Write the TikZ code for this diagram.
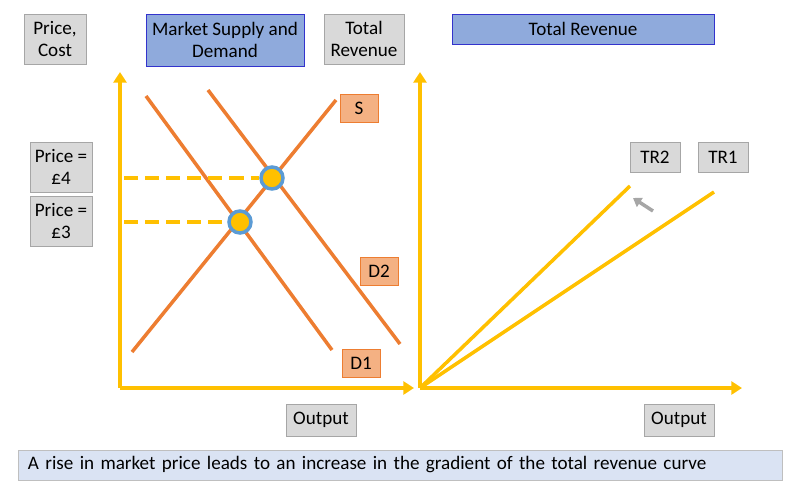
\documentclass[tikz,border=0pt]{standalone}
\usepackage{fontspec}
\setmainfont{Carlito}
\usetikzlibrary{arrows.meta,positioning}
\definecolor{axisyel}{HTML}{FFC000}
\definecolor{curveor}{HTML}{ED7D31}
\definecolor{tagsalmon}{HTML}{F4B183}
\definecolor{boxgray}{HTML}{D9D9D9}
\definecolor{boxblue}{HTML}{8FAADC}
\definecolor{dotrim}{HTML}{5B9BD5}
\definecolor{bannerblue}{HTML}{DAE3F3}
\newcommand{\figfont}{\fontsize{16.3}{19}\selectfont}
\tikzset{
  graybox/.style={draw=gray!70,fill=boxgray,align=center,font=\figfont,inner sep=2pt},
  bluebox/.style={draw=blue!60!gray,fill=boxblue,align=center,font=\figfont,inner sep=2pt},
  tagbox/.style={draw=curveor,fill=tagsalmon,font=\figfont,minimum width=38\pxu,minimum height=28\pxu},
  axisline/.style={axisyel,line width=4pt,-{Triangle[length=9pt,width=11pt]}},
  curve/.style={curveor,line width=3pt},
  trline/.style={axisyel,line width=3pt},
  pricedash/.style={axisyel,line width=3pt,dash pattern=on 12pt off 6pt},
  eqdot/.style={circle,fill=axisyel,draw=dotrim,line width=3pt,minimum size=22\pxu,inner sep=0pt}
}
\newlength{\pxu}\setlength{\pxu}{0.03cm}
\begin{document}
\begin{tikzpicture}[x=0.03cm,y=-0.03cm]
  \useasboundingbox (0,0) rectangle (800,491);

  % heading boxes
  \node[graybox,minimum width=62\pxu,minimum height=50\pxu] (pricecost) at (55,39) {Price,\\Cost};
  \node[bluebox,minimum width=158\pxu,minimum height=52\pxu] (supdem) at (225,40) {Market Supply and\\Demand};
  \node[graybox,minimum width=80\pxu,minimum height=50\pxu] (totrev) at (364,39) {Total\\Revenue};
  \node[bluebox,minimum width=262\pxu,minimum height=30\pxu] (trtitle) at (583,29) {Total Revenue};
  \node[graybox,minimum width=62\pxu,minimum height=50\pxu] (pfour) at (61,167) {Price =\\£4};
  \node[graybox,minimum width=62\pxu,minimum height=50\pxu] (pthree) at (61,221) {Price =\\£3};
  \node[graybox,minimum width=70\pxu,minimum height=32\pxu] (outleft) at (321,420) {Output};
  \node[graybox,minimum width=70\pxu,minimum height=32\pxu] (outright) at (679,420) {Output};
  \node[draw=gray!50,fill=bannerblue,minimum width=764\pxu,minimum height=30\pxu,font=\figfont,
    text width=744\pxu,align=left] (caption) at (400,465)
    {A rise in market price leads to an increase in the gradient of the total revenue curve};

  % left axes
  \coordinate (lo) at (120,388);
  \draw[axisline] (lo) -- (120,72);
  \draw[axisline] (lo) -- (414,388);

  % supply and demand
  \draw[curve] (132,352) -- (336,100);
  \draw[curve] (208,90) -- (400,344);
  \draw[curve] (146,96) -- (332,350);
  \node[tagbox] (stag) at (359,108) {S};
  \node[tagbox] (dtwo) at (379,271) {D2};
  \node[tagbox] (done) at (361,363) {D1};

  % price levels
  \node[eqdot] (eqhigh) at (272,178) {};
  \node[eqdot] (eqlow) at (240,222) {};
  \draw[pricedash] (124,178) -- (eqhigh.west);
  \draw[pricedash] (124,222) -- (eqlow.west);

  % right axes
  \coordinate (ro) at (420,388);
  \draw[axisline] (ro) -- (420,72);
  \draw[axisline] (ro) -- (742,388);

  % total revenue lines
  \coordinate (trtwoend) at (630,186);
  \coordinate (troneend) at (714,192);
  \draw[trline] (ro) -- (trtwoend);
  \draw[trline] (ro) -- (troneend);
  \node[graybox,minimum width=50\pxu,minimum height=30\pxu] (trtwo) at (655,157) {TR2};
  \node[graybox,minimum width=50\pxu,minimum height=30\pxu] (trone) at (723,157) {TR1};
  \coordinate (shiftfrom) at (653,211);
  \draw[gray!70,line width=3pt,-{Triangle[length=7pt,width=9pt]}] (shiftfrom) -- (633,198);
\end{tikzpicture}
\end{document}
